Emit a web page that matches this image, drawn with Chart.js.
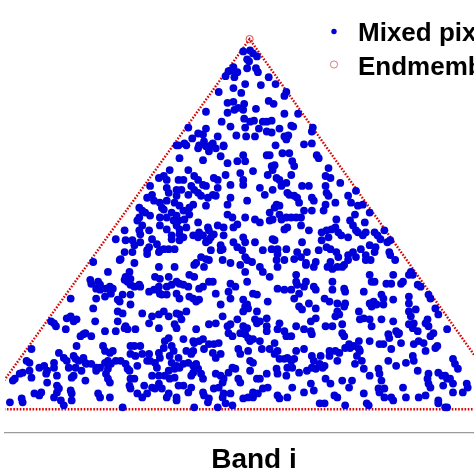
<!DOCTYPE html>
<html>
<head>
<meta charset="utf-8">
<script src="https://cdn.jsdelivr.net/npm/chart.js@4.4.1/dist/chart.umd.min.js"></script>
<style>
  html, body { margin: 0; padding: 0; background: #fff; overflow: hidden; }
  #wrap { width: 474px; height: 474px; overflow: hidden; }
</style>
</head>
<body>
<div id="wrap"><canvas id="simplex" width="508" height="474"></canvas></div>
<script>
// band i / band j values of the mixed pixels
const mixedPixels = [
  [250,46],[253,49],[257,52],[247,55],[249,57],[243,47],[233,63],[231,66],[237,68],[234,73],[228,67],[247,64],[256,64],[258,68],[225,72],[269,73],[245,80],[261,81],[276,80],[233,84],[218,88],[241,89],[287,88],[285,92],[227,99],[233,98],[244,100],[269,97],[274,100],[205,108],[234,106],[238,104],[243,106],[256,105],[285,110],[299,110],[227,109],[244,115],[250,118],[254,117],[263,118],[267,118],[272,117],[221,118],[187,124],[205,125],[230,123],[245,124],[259,125],[280,125],[292,122],[294,123],[197,130],[202,131],[217,133],[236,132],[267,128],[272,129],[285,133],[289,132],[287,136],[314,124],[313,128],[191,135],[183,140],[203,138],[212,140],[223,142],[246,133],[255,133],[276,142],[305,141],[313,140],[177,142],[198,142],
  [175,142],[185,142],[197,145],[205,143],[210,142],[215,145],[223,143],[208,148],[202,157],[220,153],[178,155],[227,160],[243,152],[237,158],[245,158],[168,167],[187,167],[157,175],[162,173],[165,177],[177,177],[182,177],[193,173],[197,177],[213,175],[217,177],[225,172],[240,170],[243,177],[148,183],[165,185],[175,187],[180,187],[190,183],[193,187],[202,182],[205,183],[217,185],[230,182],[243,182],[150,192],[145,195],[167,190],[175,193],[187,192],[197,190],[200,193],[212,192],[215,193],[207,195],[230,195],[152,198],[158,200],[165,198],[173,200],[178,203],[192,202],[205,203],[227,202],[247,198],[137,205],[140,208],[143,210],[160,205],[162,207],[188,205],[170,210],[182,208],[175,213],[188,212],[227,212],[232,215],[137,215],[135,218],[148,213],[158,215],[165,215],[172,218],[177,218],[183,217],[197,220],[237,222],[245,215],[140,223],[158,223],[175,223],[178,227],[185,225],[207,225],[208,228],[217,223],[223,225],[233,225],[122,228],[137,228],[138,232],[147,228],[165,227],[170,233],[178,232],[182,235],[192,233],[198,230],[202,233],[210,235],[213,232],[223,233],[113,237],[123,238],[130,238],[138,240],[150,237],[155,242],[170,237],[178,238],[197,235],[205,240],[208,238],[233,240],[243,235],[245,240],[132,243],[147,245],[145,248],[158,248],[162,247],[167,247],[173,247],[210,248],[220,243],[222,247],[237,245],[242,248],[122,250],[130,250],[145,252],[157,250],[200,255],[205,257],[208,258],[220,248],[117,258],[118,257],[195,261],[230,261],[132,261],[222,258],[245,255],[247,258],[90,260],
  [267,152],[270,152],[283,150],[290,150],[318,152],[320,155],[253,168],[272,163],[275,162],[273,167],[268,172],[293,158],[295,163],[292,172],[330,165],[332,175],[327,173],[342,180],[260,185],[265,192],[273,187],[277,175],[280,177],[282,183],[287,180],[288,190],[290,192],[295,193],[298,195],[300,200],[303,183],[310,183],[313,195],[315,198],[327,183],[328,190],[330,193],[337,200],[327,202],[350,193],[353,200],[358,188],[360,203],[365,202],[277,202],[280,203],[275,205],[280,212],[270,210],[313,208],[305,208],[325,208],[255,217],[260,220],[270,218],[273,217],[282,217],[287,215],[292,215],[297,215],[302,215],[338,217],[352,218],[357,212],[367,220],[372,210],[285,227],[288,225],[302,223],[310,228],[323,230],[328,228],[333,227],[337,225],[340,230],[343,233],[355,223],[358,228],[360,230],[368,230],[377,230],[387,228],[390,240],[393,238],[255,240],[273,237],[275,238],[303,240],[323,238],[330,235],[350,235],[365,233],[380,233],[383,237],[263,248],[272,247],[278,247],[287,247],[278,252],[295,257],[298,250],[308,250],[320,248],[328,245],[332,247],[338,250],[340,255],[350,253],[355,250],[358,255],[363,247],[368,253],[372,243],[378,245],[377,250],[392,250],[393,253],[252,260],[277,258],[285,258],[302,255],[307,261],[317,260],[332,260],[350,258],[368,258],[373,258],[398,258],
  [105,270],[127,270],[123,275],[128,277],[157,265],[153,275],[158,277],[87,278],[88,282],[95,280],[97,283],[93,287],[97,288],[103,287],[107,285],[110,287],[108,292],[122,278],[125,280],[128,283],[132,285],[137,283],[138,285],[147,290],[152,288],[157,285],[158,292],[67,297],[93,297],[102,295],[115,298],[117,300],[120,293],[128,293],[128,303],[115,310],[120,312],[140,312],[150,315],[157,313],[90,307],[67,315],[63,317],[70,320],[73,318],[47,320],[50,322],[52,325],[62,328],[92,320],[115,320],[123,325],[125,328],[122,327],[133,328],[147,322],[157,327],[102,330],[113,330],[82,332],[77,335],[80,333],[88,335],[27,348],[73,345],[55,352],[60,357],[63,360],[70,355],[72,358],[75,360],[80,357],[82,362],[100,345],[102,350],[107,352],[110,350],[128,345],[132,345],[138,345],[140,353],[128,353],[133,355],[147,353],[157,352],[158,357],[22,360],[25,362],[18,372],[15,373],[35,367],[40,365],[43,370],[42,373],[50,362],[50,367],[65,367],[72,367],[78,370],[70,375],[68,377],[83,363],[88,363],[93,367],[97,367],[102,362],[105,360],[108,363],[105,368],[113,360],[118,360],[123,363],[125,368],[127,370],[135,365],[145,360],[148,360],[153,362],[155,367],[10,378],[8,380],[25,370],[27,377],[53,375],[93,370],[103,373],[105,378],[107,382],[82,380],[128,378],[132,378],[150,375],[157,375],[53,385],[55,388],[53,392],[43,382],[67,390],[68,393],[37,392],[35,395],[30,393],[50,397],[57,400],[60,405],[17,398],[18,402],[5,402],[68,400],[95,393],[97,397],[107,397],[120,407],[127,385],[128,388],[135,393],[140,397],[142,385],[145,393],[150,387],[153,388],[157,383],
  [173,265],[193,263],[203,265],[240,263],[260,265],[278,265],[307,263],[315,265],[167,275],[188,273],[193,275],[245,270],[263,270],[270,275],[297,273],[307,280],[165,285],[170,283],[175,280],[178,282],[182,283],[187,285],[198,287],[202,285],[208,280],[212,280],[230,282],[235,285],[228,290],[215,292],[247,280],[253,292],[257,293],[278,287],[285,288],[292,288],[297,280],[298,283],[300,292],[305,285],[315,285],[317,288],[160,293],[165,293],[175,292],[188,295],[192,297],[178,297],[195,300],[198,298],[220,303],[230,297],[243,298],[245,305],[247,303],[248,307],[243,310],[257,310],[268,300],[295,297],[300,305],[303,308],[310,302],[317,307],[162,310],[175,312],[185,310],[167,315],[178,313],[180,318],[173,323],[175,327],[195,328],[208,323],[215,322],[222,315],[227,325],[230,323],[237,318],[243,325],[245,328],[247,327],[255,318],[257,322],[260,320],[267,317],[267,325],[267,330],[278,328],[280,322],[285,330],[287,335],[292,335],[297,325],[305,328],[312,320],[312,330],[313,333],[317,317],[167,337],[163,340],[182,338],[192,340],[193,342],[198,340],[202,338],[208,343],[213,343],[218,342],[228,332],[232,335],[240,332],[245,333],[248,337],[250,340],[253,338],[260,340],[275,342],[162,347],[170,345],[172,350],[168,355],[177,357],[185,350],[192,350],[190,353],[203,348],[212,352],[215,357],[220,353],[238,348],[240,353],[248,350],[250,360],[253,362],[262,348],[270,348],[275,353],[278,350],[280,358],[285,358],[288,357],[292,360],[295,358],[297,350],[305,348],[313,355],[315,360],[170,362],[175,365],[173,368],[178,367],[182,363],[187,362],[192,365],[195,363],[197,368],[167,370],[163,375],[168,378],[173,377],[190,375],[192,372],[200,373],[202,378],[215,373],[220,375],[223,378],[222,382],[228,372],[232,367],[235,368],[238,378],[250,370],[257,378],[260,378],[267,373],[277,368],[278,373],[287,375],[288,367],[293,367],[300,372],[308,370],[313,367],[317,368],[160,388],[167,393],[177,385],[182,385],[187,392],[190,387],[202,392],[203,395],[208,398],[207,402],[213,388],[218,387],[222,397],[223,393],[230,393],[225,403],[232,405],[240,382],[243,398],[248,397],[253,397],[258,393],[263,388],[268,387],[278,395],[280,398],[288,397],[293,387],[305,392],[312,383],[315,390],[165,397],[175,397],[175,400],[193,407],[217,407],[253,392],
  [329,265],[334,267],[339,265],[344,265],[346,263],[372,273],[374,280],[377,280],[396,273],[394,282],[389,282],[404,282],[406,280],[412,273],[416,273],[414,270],[421,283],[424,285],[334,280],[334,288],[346,287],[347,290],[366,290],[384,293],[386,297],[376,300],[372,302],[374,305],[379,303],[386,303],[396,298],[412,295],[412,302],[432,293],[434,297],[326,297],[331,300],[339,302],[347,302],[346,305],[339,310],[341,313],[337,315],[361,310],[362,318],[366,317],[372,318],[374,325],[384,318],[396,320],[399,330],[401,333],[412,310],[414,315],[412,323],[417,322],[416,327],[421,330],[419,308],[429,322],[431,318],[432,325],[434,335],[437,332],[439,307],[442,313],[451,328],[327,325],[334,325],[344,323],[344,332],[346,335],[351,343],[356,345],[352,347],[361,340],[361,348],[362,350],[359,355],[364,360],[372,340],[382,343],[386,343],[391,333],[392,337],[394,348],[402,332],[404,342],[417,343],[416,355],[417,360],[422,340],[427,342],[429,350],[441,345],[439,347],[331,350],[337,350],[341,352],[339,360],[331,355],[322,355],[321,363],[326,365],[324,367],[347,347],[357,363],[366,368],[372,375],[381,368],[382,373],[384,380],[391,360],[399,365],[409,362],[421,370],[432,373],[431,378],[442,372],[446,375],[449,375],[451,378],[454,378],[457,383],[457,358],[459,363],[462,368],[471,383],[472,387],[327,378],[332,383],[344,380],[354,380],[351,387],[366,393],[381,388],[382,392],[387,397],[387,388],[394,397],[396,400],[406,387],[409,397],[422,397],[429,395],[432,383],[434,387],[442,400],[447,385],[449,407],[457,392],[467,392],[321,403],[326,403],[336,395],[339,397],[347,405],[369,403],[371,405],[442,403],[451,407]
];

// simplex vertices (endmembers), closed back to the first one
const endmemberBandI = [-22, 249.5, 518, -22];
const endmemberBandJ = [409, 34.5, 409, 409];

const seriesLabels = ['Mixed pixels', 'Endmembers'];
const axisLabel = 'Band i';

const BLUE = '#0000d8';
const RED = '#d80000';
const FONT = '"Liberation Sans", Arial, Helvetica, sans-serif';

const cornerLegend = {
  id: 'cornerLegend',
  afterDraw(chart) {
    const ctx = chart.ctx;
    ctx.save();
    ctx.font = 'bold 26px ' + FONT;
    ctx.textBaseline = 'alphabetic';
    ctx.textAlign = 'left';

    ctx.beginPath();
    ctx.arc(334, 31.5, 2.7, 0, Math.PI * 2);
    ctx.fillStyle = BLUE;
    ctx.fill();
    ctx.fillStyle = '#000';
    ctx.fillText(chart.data.datasets[0].label, 358, 41);

    ctx.beginPath();
    ctx.arc(334, 64.5, 3.6, 0, Math.PI * 2);
    ctx.strokeStyle = 'rgba(200,70,70,0.7)';
    ctx.lineWidth = 1;
    ctx.stroke();
    ctx.fillStyle = '#000';
    ctx.fillText(chart.data.datasets[1].label, 358, 75);
    ctx.restore();
  }
};

new Chart(document.getElementById('simplex'), {
  type: 'scatter',
  data: {
    datasets: [{
      label: seriesLabels[0],
      data: mixedPixels.map(p => ({x: p[0], y: p[1]})),
      backgroundColor: BLUE,
      borderWidth: 0,
      pointRadius: 3.9,
      order: 1
    }, {
      label: seriesLabels[1],
      data: endmemberBandI.map((v, i) => ({x: v, y: endmemberBandJ[i]})),
      showLine: true,
      borderColor: RED,
      borderWidth: 2.4,
      borderDash: [1.6, 1.6],
      pointRadius: 3.6,
      pointBorderWidth: 1,
      pointBorderColor: 'rgba(210,40,40,0.85)',
      pointBackgroundColor: 'rgba(255,255,255,0)',
      order: 2
    }]
  },
  options: {
    responsive: false,
    animation: false,
    devicePixelRatio: 1,
    layout: {padding: 0},
    plugins: {
      legend: {display: false},
      tooltip: {enabled: false}
    },
    scales: {
      x: {
        type: 'linear',
        min: 0,
        max: 508,
        grid: {display: false, drawTicks: false},
        border: {display: true, color: '#9a9a9a', width: 1.3},
        ticks: {display: false},
        title: {
          display: true,
          text: axisLabel,
          color: '#000',
          font: {family: FONT, size: 28, weight: 'bold', lineHeight: 1},
          padding: {top: 13, bottom: 0}
        }
      },
      y: {
        type: 'linear',
        display: false,
        reverse: true,
        min: 0,
        max: 433
      }
    }
  },
  plugins: [cornerLegend]
});
</script>
</body>
</html>
